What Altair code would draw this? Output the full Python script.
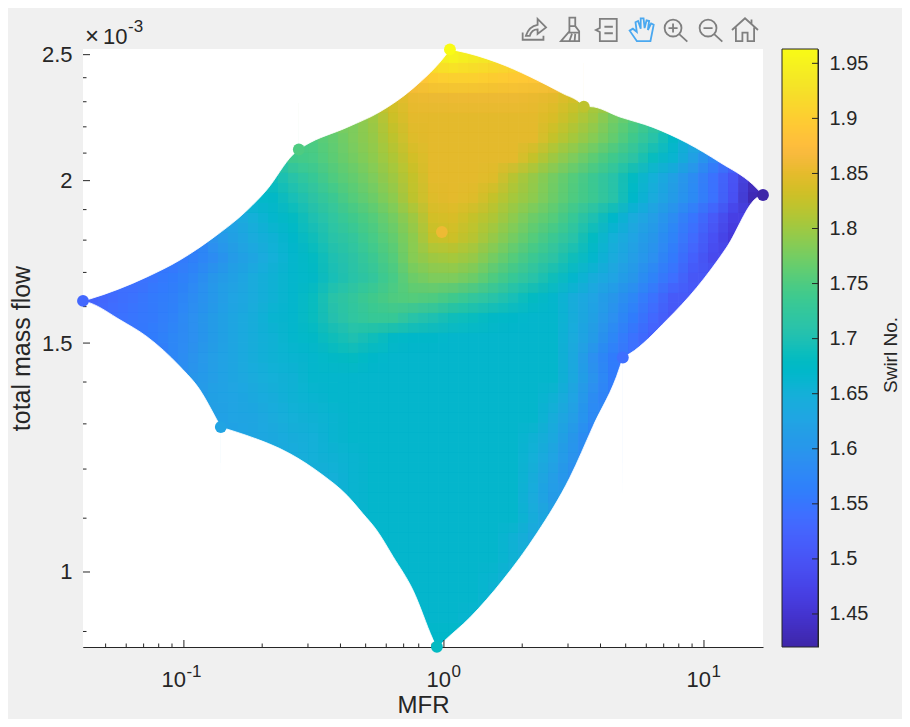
import altair as alt
import numpy as np
import pandas as pd

# ---- measured vertices (log10 MFR, log10 of flow in units of 1e-3, swirl number)
point_log_mfr = [-1.388, -0.858, -0.558, 0.023, 0.538, 1.227, 0.688, -0.027, -0.008]
point_log_flow = [0.2085, 0.1115, 0.325, 0.402, 0.358, 0.290, 0.165, -0.0575, 0.2615]
point_swirl = [1.53, 1.625, 1.75, 1.963, 1.82, 1.42, 1.54, 1.68, 1.858]

# ---- outline of the surface
upper_log_mfr = [-1.388, -1.362, -1.142, -1.015, -0.888, -0.758, -0.681, -0.581, -0.558, -0.535, -0.373, -0.246,
                 -0.119, 0.012, 0.023, 0.05, 0.204, 0.331, 0.458, 0.523, 0.538, 0.562, 0.677, 0.804, 0.935, 1.062,
                 1.188, 1.227]
upper_log_flow = [0.2085, 0.210, 0.227, 0.240, 0.257, 0.278, 0.294, 0.321, 0.325, 0.328, 0.342, 0.354,
                  0.372, 0.399, 0.402, 0.401, 0.392, 0.381, 0.368, 0.361, 0.358, 0.358, 0.35, 0.342, 0.330, 0.315,
                  0.298, 0.290]
upper_corners = [-0.558, 0.023, 0.538]
lower_log_mfr = [-1.388, -1.362, -1.246, -1.142, -1.015, -0.938, -0.873, -0.858, -0.835, -0.758, -0.592, -0.469,
                 -0.373, -0.312, -0.258, -0.196, -0.119, -0.042, -0.027, -0.004, 0.10, 0.227, 0.358, 0.485, 0.573,
                 0.677, 0.688, 0.715, 0.858, 0.973, 1.088, 1.204, 1.227]
lower_log_flow = [0.2085, 0.207, 0.194, 0.181, 0.158, 0.140, 0.117, 0.1115, 0.110, 0.105, 0.091, 0.075,
                  0.059, 0.045, 0.032, 0.012, -0.014, -0.052, -0.0585, -0.054, -0.035, -0.006, 0.03, 0.073, 0.112,
                  0.158, 0.165, 0.168, 0.194, 0.219, 0.25, 0.288, 0.29]
lower_corners = [-0.858, -0.027, 0.688]

# ---- swirl number, cell by cell (first visible column, values)
row_00 = (17, [1.94, 1.95, 1.94, 1.93, 1.92])
row_01 = (16, [1.88, 1.90, 1.905, 1.905, 1.90, 1.895, 1.89, 1.88])
row_02 = (14, [1.825, 1.84, 1.855, 1.857, 1.858, 1.858, 1.858, 1.858, 1.855, 1.85, 1.835, 1.81])
row_03 = (13, [1.78, 1.80, 1.83, 1.85, 1.85, 1.85, 1.85, 1.85, 1.85, 1.85, 1.84, 1.82, 1.80, 1.775, 1.755, 1.73])
row_04 = (10, [1.75, 1.75, 1.765, 1.78, 1.795, 1.82, 1.845, 1.85, 1.85, 1.85, 1.85, 1.85, 1.85, 1.825, 1.805, 1.785,
               1.765, 1.74, 1.71, 1.675, 1.64])
row_05 = (9, [1.71, 1.74, 1.745, 1.76, 1.775, 1.79, 1.81, 1.835, 1.85, 1.85, 1.85, 1.85, 1.85, 1.825, 1.80, 1.78,
              1.76, 1.74, 1.715, 1.685, 1.66, 1.62, 1.575, 1.54])
row_06 = (9, [1.69, 1.71, 1.73, 1.75, 1.765, 1.78, 1.80, 1.825, 1.85, 1.85, 1.85, 1.845, 1.815, 1.795, 1.775, 1.755,
              1.735, 1.71, 1.68, 1.65, 1.62, 1.585, 1.545, 1.50, 1.44])
row_07 = (8, [1.665, 1.675, 1.695, 1.715, 1.735, 1.755, 1.77, 1.79, 1.82, 1.845, 1.85, 1.845, 1.825, 1.805, 1.79,
              1.77, 1.75, 1.735, 1.71, 1.67, 1.64, 1.61, 1.58, 1.545, 1.495, 1.43])
row_08 = (7, [1.625, 1.65, 1.665, 1.68, 1.70, 1.72, 1.74, 1.755, 1.775, 1.80, 1.835, 1.84, 1.825, 1.81, 1.79, 1.77,
              1.755, 1.73, 1.70, 1.67, 1.64, 1.615, 1.585, 1.55, 1.51, 1.47])
row_09 = (5, [1.56, 1.595, 1.62, 1.64, 1.655, 1.67, 1.69, 1.71, 1.725, 1.745, 1.765, 1.79, 1.825, 1.83, 1.815, 1.795,
              1.775, 1.755, 1.735, 1.71, 1.68, 1.65, 1.625, 1.60, 1.57, 1.535, 1.495, 1.46])
row_10 = (4, [1.55, 1.565, 1.585, 1.61, 1.63, 1.65, 1.665, 1.68, 1.70, 1.715, 1.735, 1.755, 1.785, 1.80, 1.805, 1.795,
              1.775, 1.755, 1.735, 1.715, 1.69, 1.665, 1.64, 1.615, 1.59, 1.555, 1.52, 1.485])
row_11 = (1, [1.54, 1.54, 1.55, 1.56, 1.575, 1.60, 1.62, 1.64, 1.655, 1.665, 1.675, 1.695, 1.71, 1.725, 1.745, 1.77,
              1.78, 1.78, 1.77, 1.75, 1.73, 1.71, 1.69, 1.665, 1.645, 1.625, 1.60, 1.57, 1.54, 1.505])
row_12 = (0, [1.525, 1.535, 1.545, 1.555, 1.565, 1.585, 1.605, 1.625, 1.64, 1.655, 1.665, 1.685, 1.71, 1.725, 1.74,
              1.75, 1.755, 1.75, 1.74, 1.725, 1.71, 1.695, 1.68, 1.665, 1.645, 1.625, 1.60, 1.575, 1.545, 1.51])
row_13 = (0, [1.53, 1.54, 1.55, 1.555, 1.57, 1.59, 1.61, 1.63, 1.645, 1.66, 1.665, 1.685, 1.705, 1.72, 1.73, 1.73,
              1.71, 1.70, 1.69, 1.685, 1.675, 1.67, 1.665, 1.665, 1.645, 1.62, 1.59, 1.56, 1.53, 1.505])
row_14 = (2, [1.55, 1.56, 1.575, 1.59, 1.61, 1.63, 1.645, 1.655, 1.665, 1.675, 1.69, 1.70, 1.69, 1.675, 1.67, 1.67,
              1.665, 1.665, 1.665, 1.665, 1.665, 1.665, 1.64, 1.61, 1.575, 1.545, 1.52])
row_15 = (3, [1.55, 1.575, 1.595, 1.615, 1.63, 1.645, 1.655, 1.66, 1.665, 1.675, 1.68, 1.67, 1.665, 1.665, 1.665,
              1.665, 1.665, 1.665, 1.665, 1.665, 1.665, 1.635, 1.59, 1.56, 1.54])
row_16 = (4, [1.575, 1.60, 1.615, 1.63, 1.64, 1.65, 1.655, 1.665, 1.665, 1.665, 1.665, 1.665, 1.665, 1.665, 1.665,
              1.665, 1.665, 1.665, 1.665, 1.665, 1.635, 1.595, 1.56])
row_17 = (5, [1.60, 1.62, 1.625, 1.635, 1.645, 1.655, 1.66, 1.665, 1.665, 1.665, 1.665, 1.665, 1.665, 1.665, 1.665,
              1.665, 1.665, 1.665, 1.655, 1.625, 1.585, 1.56])
row_18 = (6, [1.615, 1.625, 1.63, 1.64, 1.65, 1.655, 1.66, 1.665, 1.665, 1.665, 1.665, 1.665, 1.665, 1.665, 1.665,
              1.665, 1.665, 1.645, 1.615, 1.58])
row_19 = (7, [1.62, 1.63, 1.635, 1.645, 1.65, 1.66, 1.665, 1.665, 1.665, 1.665, 1.665, 1.665, 1.665, 1.665, 1.665,
              1.655, 1.635, 1.60, 1.57])
row_20 = (9, [1.635, 1.64, 1.65, 1.655, 1.66, 1.665, 1.665, 1.665, 1.665, 1.665, 1.665, 1.665, 1.665, 1.65, 1.625,
              1.595, 1.57])
row_21 = (11, [1.645, 1.65, 1.66, 1.665, 1.665, 1.665, 1.665, 1.665, 1.665, 1.665, 1.665, 1.645, 1.615, 1.59])
row_22 = (12, [1.65, 1.66, 1.665, 1.665, 1.665, 1.665, 1.665, 1.665, 1.665, 1.665, 1.64, 1.61])
row_23 = (13, [1.66, 1.665, 1.665, 1.665, 1.665, 1.665, 1.665, 1.665, 1.665, 1.645, 1.62])
row_24 = (14, [1.665, 1.665, 1.665, 1.665, 1.665, 1.665, 1.665, 1.655, 1.635])
row_25 = (15, [1.665, 1.665, 1.665, 1.665, 1.665, 1.665, 1.655, 1.64])
row_26 = (15, [1.665, 1.665, 1.665, 1.665, 1.665, 1.66, 1.65])
row_27 = (16, [1.665, 1.665, 1.665, 1.665, 1.655])
row_28 = (16, [1.665, 1.665, 1.665, 1.66])
row_29 = (17, [1.67, 1.67])
row_30 = (17, [1.67, 1.67])
rows = [row_00, row_01, row_02, row_03, row_04, row_05, row_06, row_07, row_08, row_09,
        row_10, row_11, row_12, row_13, row_14, row_15, row_16, row_17, row_18, row_19,
        row_20, row_21, row_22, row_23, row_24, row_25, row_26, row_27, row_28, row_29, row_30]

# ---- parula
parula = [[0.2422, 0.1504, 0.6603], [0.2504, 0.1650, 0.7076], [0.2578, 0.1818, 0.7511], [0.2647, 0.1978, 0.7952],
          [0.2706, 0.2147, 0.8364], [0.2751, 0.2342, 0.8710], [0.2783, 0.2559, 0.8991], [0.2803, 0.2782, 0.9221],
          [0.2813, 0.3006, 0.9414], [0.2810, 0.3228, 0.9579], [0.2795, 0.3447, 0.9717], [0.2760, 0.3667, 0.9829],
          [0.2699, 0.3892, 0.9906], [0.2602, 0.4123, 0.9952], [0.2440, 0.4358, 0.9988], [0.2206, 0.4603, 0.9973],
          [0.1963, 0.4847, 0.9892], [0.1834, 0.5074, 0.9798], [0.1786, 0.5289, 0.9682], [0.1764, 0.5499, 0.9520],
          [0.1687, 0.5703, 0.9359], [0.1540, 0.5902, 0.9218], [0.1460, 0.6091, 0.9079], [0.1380, 0.6276, 0.8973],
          [0.1248, 0.6459, 0.8883], [0.1113, 0.6635, 0.8763], [0.0952, 0.6798, 0.8598], [0.0689, 0.6948, 0.8394],
          [0.0297, 0.7082, 0.8163], [0.0036, 0.7203, 0.7917], [0.0067, 0.7312, 0.7660], [0.0433, 0.7411, 0.7394],
          [0.0964, 0.7500, 0.7120], [0.1408, 0.7584, 0.6842], [0.1717, 0.7670, 0.6554], [0.1938, 0.7758, 0.6251],
          [0.2161, 0.7843, 0.5923], [0.2470, 0.7918, 0.5567], [0.2906, 0.7973, 0.5188], [0.3406, 0.8008, 0.4789],
          [0.3909, 0.8029, 0.4354], [0.4456, 0.8024, 0.3909], [0.5044, 0.7993, 0.3480], [0.5616, 0.7942, 0.3045],
          [0.6174, 0.7876, 0.2612], [0.6720, 0.7793, 0.2227], [0.7242, 0.7698, 0.1910], [0.7738, 0.7598, 0.1646],
          [0.8203, 0.7498, 0.1535], [0.8634, 0.7406, 0.1596], [0.9035, 0.7330, 0.1774], [0.9393, 0.7288, 0.2100],
          [0.9728, 0.7298, 0.2394], [0.9956, 0.7434, 0.2371], [0.9970, 0.7659, 0.2199], [0.9952, 0.7893, 0.2028],
          [0.9892, 0.8136, 0.1885], [0.9786, 0.8386, 0.1766], [0.9676, 0.8639, 0.1643], [0.9610, 0.8890, 0.1537],
          [0.9597, 0.9135, 0.1423], [0.9628, 0.9373, 0.1265], [0.9691, 0.9606, 0.1064], [0.9769, 0.9839, 0.0805]]
palette = ["#%02x%02x%02x" % tuple(int(round(c * 255)) for c in rgb) for rgb in parula]

swirl_min, swirl_max = 1.42, 1.963
color_domain = list(np.linspace(swirl_min, swirl_max, len(palette)))
color_scale = alt.Scale(domain=color_domain, range=palette, interpolate="rgb")

x_ticks_major = [0.1, 1, 10]
x_ticks_minor = [0.05, 0.06, 0.07, 0.08, 0.09, 0.2, 0.3, 0.4, 0.5, 0.6, 0.7, 0.8, 0.9,
                 2, 3, 4, 5, 6, 7, 8, 9]
y_ticks_major = [1, 1.5, 2, 2.5]
y_ticks_minor = [0.9, 1.1, 1.2, 1.3, 1.4, 1.6, 1.7, 1.8, 1.9, 2.1, 2.2, 2.3, 2.4]
cbar_ticks = [1.45, 1.5, 1.55, 1.6, 1.65, 1.7, 1.75, 1.8, 1.85, 1.9, 1.95]

INK = "#262626"
FONT = "Liberation Sans"
W, H = 680, 598
log_x_lo, log_x_hi = -1.388, 1.227
log_y_lo, log_y_hi = -0.0577, 0.4023

xs = alt.Scale(type="log", base=10, domain=[10 ** log_x_lo, 10 ** log_x_hi], nice=False)
ys = alt.Scale(type="log", base=10, domain=[10 ** log_y_lo, 10 ** log_y_hi], nice=False)

X_AXIS = alt.Axis(values=x_ticks_major, labels=False, ticks=False, grid=False, domainColor=INK,
                  domainWidth=1, titleFontSize=24, titleColor=INK, titleFontWeight="normal",
                  titleFont=FONT, titleX=340, titleY=65, titleAlign="center",
                  titleBaseline="alphabetic", title="MFR")
Y_AXIS = alt.Axis(values=y_ticks_major, format="~g", ticks=False, grid=False, domainColor=INK,
                  domainWidth=1, labelFontSize=22, labelColor=INK, labelFont=FONT,
                  labelPadding=11, titleFontSize=25, titleColor=INK, titleFontWeight="normal",
                  titleFont=FONT, titleX=-54, titleY=299, titleAlign="center",
                  titleBaseline="alphabetic", title="total mass flow")

# grid of cells; the outermost value of each row continues under the white masks
dx = 20 / 260
dy = 20 / 1300
PAD = 2
y_top = 0.4031
cells = []
for j, (start, vals) in enumerate(rows):
    full = [vals[0]] * PAD + list(vals) + [vals[-1]] * PAD
    for k, v in enumerate(full):
        i = start - PAD + k
        cells.append({"i": i, "j": j, "swirl": v})
cells = pd.DataFrame(cells)


def surface_pass(shift_x, shift_y, opacity):
    lx = log_x_lo + (cells["i"] + shift_x) * dx
    ly = y_top - (cells["j"] + shift_y) * dy
    df = pd.DataFrame({"x0": 10 ** lx, "x1": 10 ** (lx + dx), "y0": 10 ** ly, "y1": 10 ** (ly - dy),
                       "swirl": cells["swirl"]})
    return alt.Chart(df).mark_rect(clip=True, strokeWidth=0, opacity=opacity).encode(
        x=alt.X("x0:Q", scale=xs, axis=X_AXIS),
        x2="x1:Q",
        y=alt.Y("y0:Q", scale=ys, axis=Y_AXIS),
        y2="y1:Q",
        color=alt.Color("swirl:Q", scale=color_scale, legend=None),
    )


surface = [surface_pass(-0.25, -0.25, 1), surface_pass(0.25, -0.25, 1 / 2),
           surface_pass(-0.25, 0.25, 1 / 3), surface_pass(0.25, 0.25, 1 / 4)]


def outline(log_mfr, log_flow, corners, edge):
    """One table per stretch between two corners of the surface, so each stays a smooth curve."""
    recs = []
    seg = 0
    for lx, ly in zip(log_mfr, log_flow):
        recs.append({"mfr": 10 ** lx, "flow": 10 ** ly, "edge": 10 ** edge, "seg": seg})
        if lx in corners:
            seg += 1
            recs.append({"mfr": 10 ** lx, "flow": 10 ** ly, "edge": 10 ** edge, "seg": seg})
    return pd.DataFrame(recs)


upper = outline(upper_log_mfr, upper_log_flow, upper_corners, log_y_hi)
lower = outline(lower_log_mfr, lower_log_flow, lower_corners, log_y_lo)


def mask(df):
    return alt.Chart(df).mark_area(color="white", stroke="white", strokeWidth=0.8, interpolate="monotone",
                                   clip=True, orient="vertical").encode(
        x=alt.X("mfr:Q", scale=xs, axis=X_AXIS),
        y=alt.Y("flow:Q", scale=ys, axis=Y_AXIS),
        y2="edge:Q",
        detail="seg:N",
    )


def x_ticks(values, length):
    return alt.Chart(pd.DataFrame({"v": values})).mark_rule(color=INK, strokeWidth=1).encode(
        x=alt.X("v:Q", scale=xs, axis=X_AXIS), y=alt.value(H), y2=alt.value(H - length))


def y_ticks(values, length):
    return alt.Chart(pd.DataFrame({"v": values})).mark_rule(color=INK, strokeWidth=1).encode(
        y=alt.Y("v:Q", scale=ys, axis=Y_AXIS), x=alt.value(0), x2=alt.value(length))


points = pd.DataFrame({"mfr": 10 ** np.array(point_log_mfr), "flow": 10 ** np.array(point_log_flow),
                       "swirl": point_swirl})
dots = alt.Chart(points).mark_circle(size=140, opacity=1, clip=False).encode(
    x=alt.X("mfr:Q", scale=xs, axis=X_AXIS),
    y=alt.Y("flow:Q", scale=ys, axis=Y_AXIS),
    color=alt.Color("swirl:Q", scale=color_scale, legend=None),
)


def free_text(text, px, py, size, align="left", angle=0):
    return alt.Chart(pd.DataFrame({"t": [text]})).mark_text(
        font=FONT, fontSize=size, color=INK, align=align, baseline="alphabetic", angle=angle
    ).encode(text="t:N", x=alt.value(px), y=alt.value(py))


def decade_label(value, exponent, shift):
    df = pd.DataFrame({"v": [value], "base": ["10"], "exp": [exponent]})
    base = alt.Chart(df).mark_text(font=FONT, fontSize=22, color=INK, align="right",
                                   baseline="alphabetic", dx=shift).encode(
        x=alt.X("v:Q", scale=xs, axis=X_AXIS), y=alt.value(638), text="base:N")
    exp = alt.Chart(df).mark_text(font=FONT, fontSize=17, color=INK, align="left",
                                  baseline="alphabetic", dx=shift + 0.5).encode(
        x=alt.X("v:Q", scale=xs, axis=X_AXIS), y=alt.value(628), text="exp:N")
    return [base, exp]


main_layers = surface + [mask(upper), mask(lower),
                         x_ticks(x_ticks_major, 7), x_ticks(x_ticks_minor, 3.5),
                         y_ticks(y_ticks_major, 7), y_ticks(y_ticks_minor, 3.5),
                         dots,
                         free_text("\u00d7", 9, -5, 24, "center"), free_text("10", 20, -5, 22),
                         free_text("-3", 45, -17, 17)]
main_layers += decade_label(0.1, "-1", 2) + decade_label(1, "0", 7) + decade_label(10, "1", 7)

# ---- toolbar glyphs
toolbar_x = [452, 489, 524, 559, 592, 627, 662]
toolbar_paths = [
    "M-.95,.2V.75H.65V.45M-.7,.45C-.5,-.2 -.1,-.35 .2,-.4V-.85L.85,-.2L.2,.3V-.05C-.1,-.05 -.3,.1 -.4,.45Z",
    "M-.2,-.95H.25V-.3L.55,.1V.85H-.85L-.2,.1ZM-.2,-.3H.25M-.3,.2L.55,.2M0,.3L-.2,.85M.25,.3L.2,.85",
    "M-.55,-.85H.75V.85H-.55V.15L-.85,0L-.55,-.15ZM-.2,-.25H.45M-.2,.25H.45",
    "M-.4,.85L-.95,.05L-.7,-.1L-.4,.15L-.5,-.6L-.3,-.7L-.1,-.1L-.1,-.9L.12,-.9L.2,-.15L.35,-.75L.55,-.7L.45,0"
    "L.7,-.5L.9,-.4L.65,.85Z",
    "M.5,-.15A.65,.65 0 1 1 -.8,-.15A.65,.65 0 1 1 .5,-.15M.3,.3L.95,.9M-.5,-.15H.2M-.15,-.5V.2",
    "M.5,-.15A.65,.65 0 1 1 -.8,-.15A.65,.65 0 1 1 .5,-.15M.3,.3L.95,.9M-.5,-.15H.2",
    "M-1,0L0,-.9L1,0M-.7,-.2V.85H-.2V.2H.2V.85H.7V-.2M.5,-.8V-.4",
]
toolbar_colors = ["#7f7f7f", "#7f7f7f", "#7f7f7f", "#4aa8f0", "#7f7f7f", "#7f7f7f", "#7f7f7f"]
for px, path, col in zip(toolbar_x, toolbar_paths, toolbar_colors):
    main_layers.append(
        alt.Chart(pd.DataFrame({"a": [0]})).mark_point(shape=path, size=676, filled=False, color=col, strokeWidth=1.8,
                                                       opacity=1).encode(x=alt.value(px), y=alt.value(-19)))

main = alt.layer(*main_layers)

# ---- colour bar
cb_edges = np.linspace(swirl_min, swirl_max, H // 2 + 1)
cb = pd.DataFrame({"lo": cb_edges[:-1], "hi": cb_edges[1:], "swirl": (cb_edges[:-1] + cb_edges[1:]) / 2})
cs = alt.Scale(domain=[swirl_min, swirl_max], nice=False, zero=False)
CB0, CB1 = 699, 735
CB_AXIS = alt.Axis(orient="right", offset=CB1 - W, values=cbar_ticks, format="~g", ticks=False, grid=False,
                   domainColor=INK, domainWidth=1, labelFontSize=20, labelColor=INK,
                   labelFont=FONT, labelPadding=11, title=None)
cb_rects = alt.Chart(cb).mark_rect(strokeWidth=0).encode(
    x=alt.value(CB0), x2=alt.value(CB1),
    y=alt.Y("lo:Q", scale=cs, axis=CB_AXIS),
    y2="hi:Q",
    color=alt.Color("swirl:Q", scale=color_scale, legend=None),
)
cb_ticks = alt.Chart(pd.DataFrame({"v": cbar_ticks})).mark_rule(color=INK, strokeWidth=1).encode(
    y=alt.Y("v:Q", scale=cs, axis=CB_AXIS), x=alt.value(CB1 - 6), x2=alt.value(CB1))
cb_box = alt.Chart(pd.DataFrame({"a": [0]})).mark_rect(filled=False, stroke=INK, strokeWidth=1).encode(
    x=alt.value(CB0), x2=alt.value(CB1), y=alt.value(0), y2=alt.value(H))
cb_title = free_text("Swirl No.", 814, 306, 19, "center", 270)
bar = alt.layer(cb_rects, cb_ticks, cb_box, cb_title)

chart = alt.layer(main, bar).resolve_scale(y="independent").properties(
    width=W, height=H, autosize=alt.AutoSizeParams(type="none"),
    padding={"left": 75, "top": 41, "right": 139, "bottom": 72},
    background="#f0f0f0",
).configure_view(fill="white", stroke=None)

chart.save("out.html", embed_options={"renderer": "svg", "actions": False})
